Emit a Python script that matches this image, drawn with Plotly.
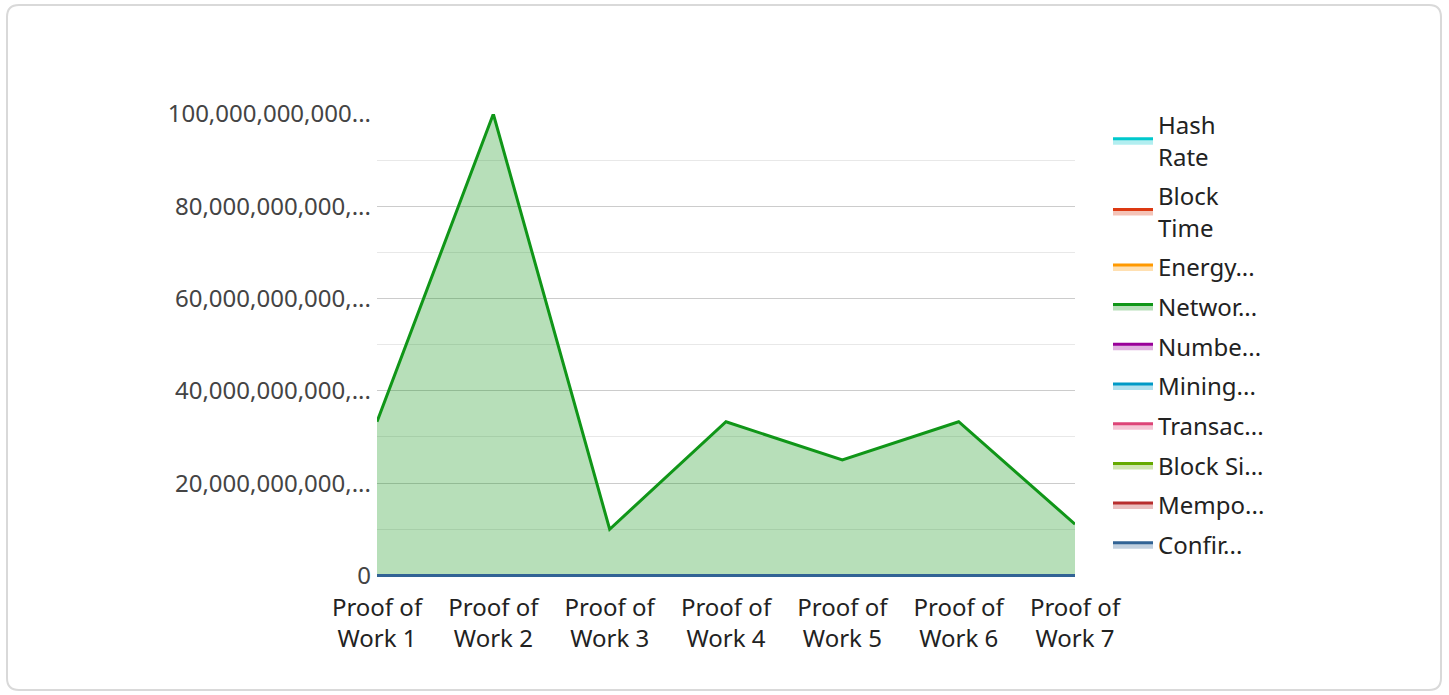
import plotly.graph_objects as go

categories = ["Proof of Work 1", "Proof of Work 2", "Proof of Work 3", "Proof of Work 4",
              "Proof of Work 5", "Proof of Work 6", "Proof of Work 7"]
cat_labels = ["Proof of<br>Work 1", "Proof of<br>Work 2", "Proof of<br>Work 3", "Proof of<br>Work 4",
              "Proof of<br>Work 5", "Proof of<br>Work 6", "Proof of<br>Work 7"]

series_names = ["Hash<br>Rate", "Block<br>Time", "Energy...", "Networ...", "Numbe...",
                "Mining...", "Transac...", "Block Si...", "Mempo...", "Confir..."]

hash_rate = [120, 150, 90, 130, 110, 140, 100]
block_time = [600, 15, 150, 60, 120, 30, 600]
energy = [120000, 60000, 20000, 35000, 25000, 40000, 15000]
network_difficulty = [33.3e9, 100e9, 10e9, 33.3e9, 25e9, 33.3e9, 11.1e9]
miners = [10000, 5000, 2000, 3000, 2500, 4000, 1500]
mining_reward = [6.25, 2, 12.5, 3, 25, 5, 10]
transaction_fees = [2.5, 1.5, 0.5, 1, 0.8, 1.2, 0.3]
block_size = [1, 2, 8, 4, 1, 2, 4]
mempool = [5000, 3000, 1000, 2000, 1500, 2500, 800]
confirmation = [60, 15, 2.5, 10, 5, 30, 2]

series_values = [hash_rate, block_time, energy, network_difficulty, miners,
                 mining_reward, transaction_fees, block_size, mempool, confirmation]

colors = ["#00c8cc", "#dc3912", "#ff9900", "#109618", "#990099",
          "#0099c6", "#dd4477", "#66aa00", "#b82e2e", "#316395"]

y_tickvals = [0, 20e9, 40e9, 60e9, 80e9, 100e9]
y_ticktext = ["0", "20,000,000,000,...", "40,000,000,000,...", "60,000,000,000,...",
              "80,000,000,000,...", "100,000,000,000..."]


def rgba(hex_color, a):
    h = hex_color.lstrip("#")
    r, g, b = int(h[0:2], 16), int(h[2:4], 16), int(h[4:6], 16)
    return f"rgba({r},{g},{b},{a})"


fig = go.Figure()
for i, (name, vals, col) in enumerate(zip(series_names, series_values, colors)):
    fig.add_trace(go.Scatter(
        x=categories, y=vals, name=name, mode="lines",
        line=dict(color=col, width=3),
        fill="tozeroy", fillcolor=rgba(col, 0.3),
        legendgroup=f"g{i}",
    ))

W, H = 1449, 695
L, R, T, B = 377, 374, 114, 118
PW, PH = W - L - R, H - T - B


def px(x):
    return (x - L) / PW


def py(y):
    return (H - y - B) / PH


rad = 12
x0, x1, y0, y1 = 7, 1441, 5, 690
card = (f"M {px(x0 + rad)},{py(y0)} L {px(x1 - rad)},{py(y0)} "
        f"Q {px(x1)},{py(y0)} {px(x1)},{py(y0 + rad)} L {px(x1)},{py(y1 - rad)} "
        f"Q {px(x1)},{py(y1)} {px(x1 - rad)},{py(y1)} L {px(x0 + rad)},{py(y1)} "
        f"Q {px(x0)},{py(y1)} {px(x0)},{py(y1 - rad)} L {px(x0)},{py(y0 + rad)} "
        f"Q {px(x0)},{py(y0)} {px(x0 + rad)},{py(y0)} Z")

fig.update_layout(
    width=W, height=H,
    paper_bgcolor="white", plot_bgcolor="white",
    margin=dict(l=L, r=R, t=T, b=B, autoexpand=False),
    font=dict(family="Noto Sans, Open Sans, sans-serif", size=24, color="#444"),
    showlegend=True,
    legend=dict(
        x=px(1108), y=py(103), xanchor="left", yanchor="top",
        font=dict(size=24, color="#222"),
        tracegroupgap=5.5, itemwidth=40, maxheight=650,
        bgcolor="rgba(0,0,0,0)",
    ),
    xaxis=dict(
        type="category", range=[0, 6],
        tickmode="array", tickvals=categories, ticktext=cat_labels,
        showgrid=False, zeroline=False, showline=False,
        tickfont=dict(size=24, color="#222"),
        ticks="", ticklabelstandoff=14,
    ),
    yaxis=dict(
        range=[-0.35e9, 100e9],
        tickmode="array", tickvals=y_tickvals, ticktext=y_ticktext,
        showgrid=True, gridcolor="#cccccc", gridwidth=1,
        zeroline=False, showline=False,
        ticks="", ticklabelstandoff=5,
        tickfont=dict(size=24, color="#444"),
        minor=dict(tickvals=[10e9, 30e9, 50e9, 70e9, 90e9], showgrid=True,
                   gridcolor="#e8e8e8", gridwidth=1, ticks=""),
    ),
    shapes=[dict(
        type="path", xref="paper", yref="paper", layer="below",
        path=card,
        line=dict(color="#d9d9d9", width=2), fillcolor="rgba(0,0,0,0)",
    )],
)

fig.write_html("out.html", config={"displayModeBar": False},
               post_script="document.body.style.margin='0';")
